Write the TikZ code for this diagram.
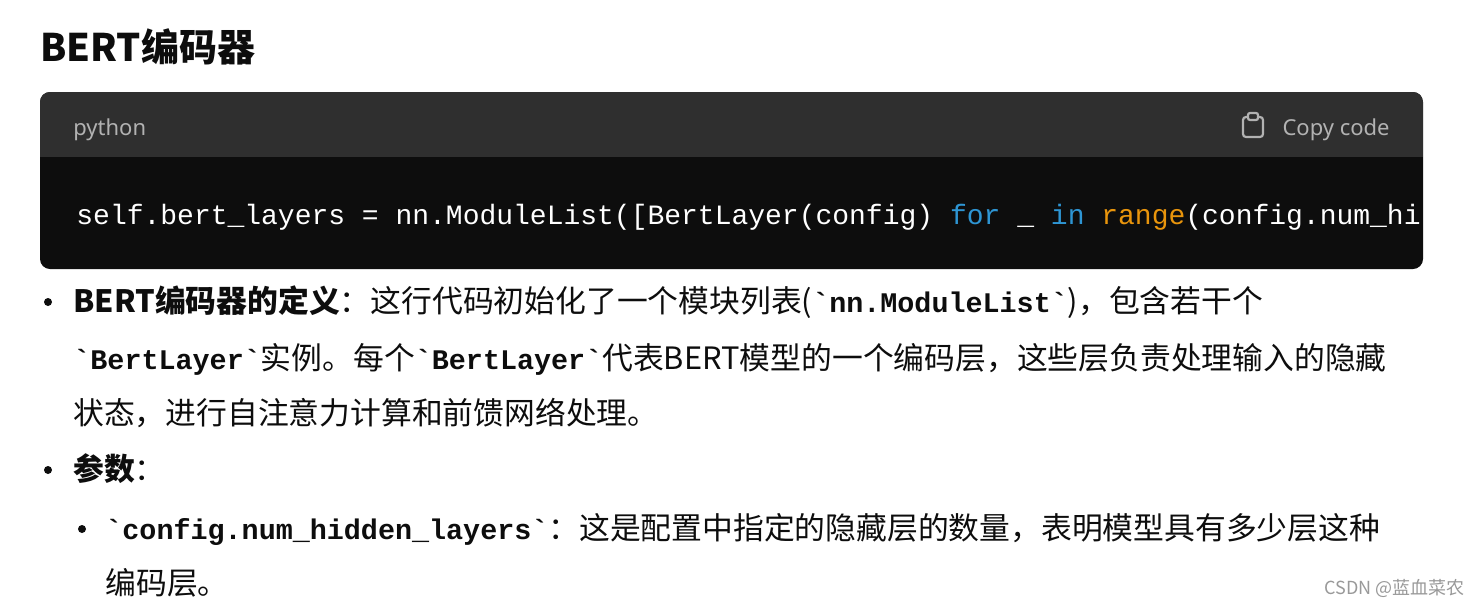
\documentclass[tikz,border=0pt]{standalone}
\usepackage{fontspec}
\setmainfont{Noto Sans CJK SC}
\newfontfamily\cmono{Liberation Mono}
\newfontfamily\ui{Noto Sans}
\definecolor{hdr}{HTML}{2F2F2F}
\definecolor{cbody}{HTML}{0D0D0D}
\definecolor{kwblue}{HTML}{2E95D3}
\definecolor{kworange}{HTML}{E9950C}
\definecolor{txt}{HTML}{0D0D0D}
\tikzset{line/.style={anchor=base west,inner sep=0pt,text=txt,font=\fontsize{15.4}{18}\selectfont},
 dot/.style={circle,fill=txt,inner sep=0pt,minimum size=4pt}}
\newcommand{\ic}[1]{{\cmono\bfseries\fontsize{14.2}{18}\selectfont`#1`}}
\begin{document}
\begin{tikzpicture}[x=0.5pt,y=-0.5pt]
\useasboundingbox[fill=white] (0,0) rectangle (1480,606);
\node[line,font=\fontsize{19}{22}\selectfont\bfseries] (title) at (40,61) {BERT编码器};
% code block
\fill[cbody,rounded corners=5pt] (40,92) rectangle (1423,269);
\begin{scope}
\clip[rounded corners=5pt] (40,92) rectangle (1423,180);
\fill[hdr] (40,92) rectangle (1423,157);
\end{scope}
\node[anchor=base west,inner sep=0pt,text=black!30,font=\ui\fontsize{11}{13}\selectfont] (lang) at (73,135) {python};
\node[anchor=base east,inner sep=0pt,text=black!30,font=\ui\fontsize{11}{13}\selectfont] (copy) at (1390,135) {Copy code};
\draw[black!30,line width=1.1pt,rounded corners=1.5pt] (1243,117) rectangle (1263,137);
\fill[hdr] (1248,113) rectangle (1258,120);
\draw[black!30,line width=1.1pt,rounded corners=1pt] (1248,113) rectangle (1258,120);
\begin{scope}
\clip (40,157) rectangle (1423,269);
\node[anchor=base west,inner sep=0pt,text=white,font=\cmono\fontsize{14}{17}\selectfont] (code) at (76,224)
 {self.bert\_layers = nn.ModuleList([BertLayer(config) \textcolor{kwblue}{for} \_ \textcolor{kwblue}{in} \textcolor{kworange}{range}(config.num\_hi};
\end{scope}
% bullets
\node[dot] (d1) at (48,302) {};
\node[line] (l1) at (73,312) {\textbf{BERT编码器的定义}：这行代码初始化了一个模块列表(\ic{nn.ModuleList})，包含若干个};
\node[line] (l2) at (73,369) {\ic{BertLayer}实例。每个\ic{BertLayer}代表BERT模型的一个编码层，这些层负责处理输入的隐藏};
\node[line] (l3) at (73,424) {状态，进行自注意力计算和前馈网络处理。};
\node[dot] (d2) at (48,470) {};
\node[line] (l4) at (73,480) {\textbf{参数}：};
\node[dot] (d3) at (82,529) {};
\node[line] (l5) at (105,539) {\ic{config.num\_hidden\_layers}：这是配置中指定的隐藏层的数量，表明模型具有多少层这种};
\node[line] (l6) at (105,594) {编码层。};
\node[anchor=base east,inner sep=0pt,text=black!40,font=\fontsize{9}{11}\selectfont] (wm) at (1465,594) {CSDN @蓝血菜农};
\end{tikzpicture}
\end{document}
